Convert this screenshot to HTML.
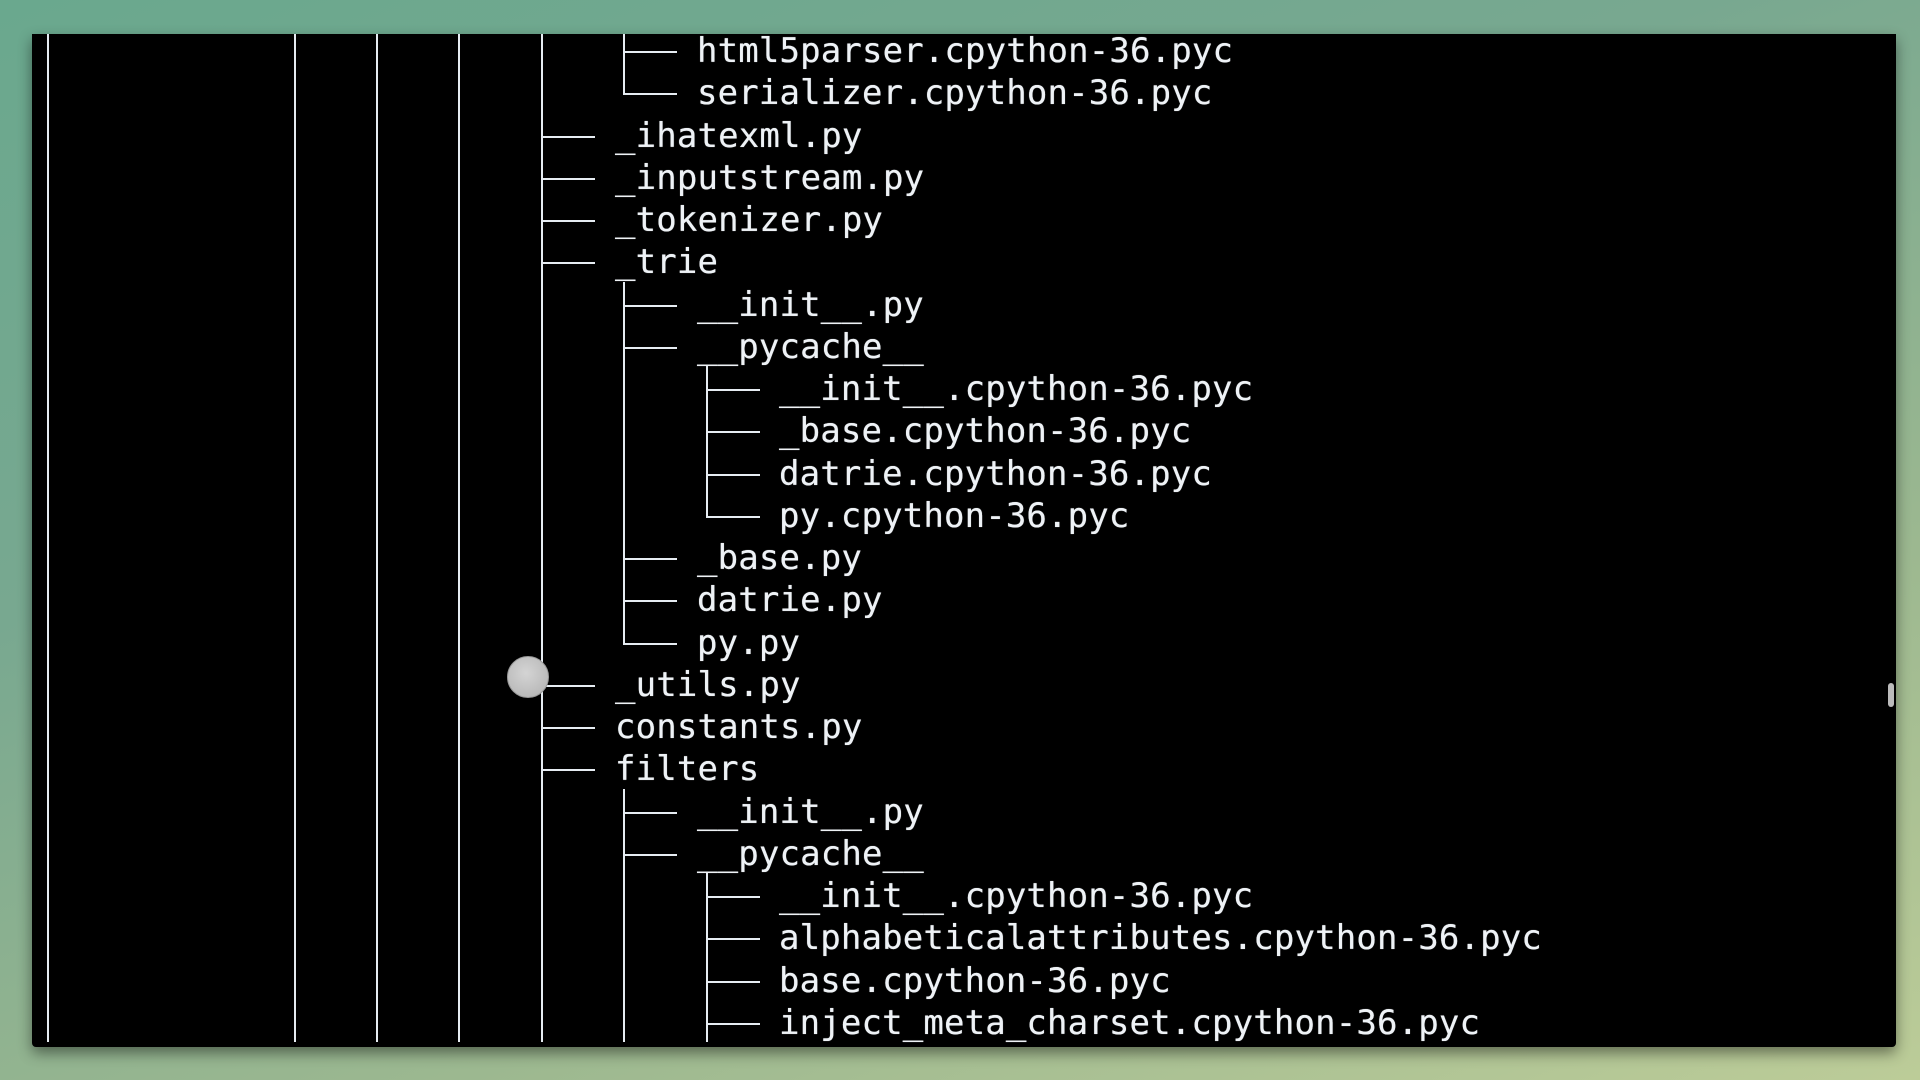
<!DOCTYPE html>
<html><head><meta charset="utf-8"><style>
html,body{margin:0;padding:0;width:1920px;height:1080px;overflow:hidden}
body{background:linear-gradient(160deg,#6aa88e 0%,#78a890 35%,#9cb890 70%,#bccc98 100%);position:relative}
#panel{position:absolute;left:32px;top:34px;width:1864px;height:1013px;background:#000;box-shadow:0 6px 14px rgba(0,0,0,0.45);border-radius:0 0 4px 4px}
.v{position:absolute;width:2px;background:#e6ecf2}
.h{position:absolute;height:2px;background:#e6ecf2}
.t{position:absolute;font-family:"DejaVu Sans Mono","Liberation Mono",monospace;font-size:34px;line-height:42.25px;letter-spacing:0.15px;color:#eef2f6;white-space:pre;text-shadow:0 0 0.6px #eef2f6}
#dot{position:absolute;left:507px;top:656px;width:40px;height:40px;border-radius:50%;background:radial-gradient(circle at 45% 40%,#d4d4d4,#b0b0b0);border:1px solid #999}
#sb{position:absolute;left:1888px;top:683px;width:6px;height:24px;border-radius:3px;background:#bbb}
</style></head><body>
<div id="panel"></div>
<div class="v" style="left:47px;top:34px;height:1008px"></div>
<div class="v" style="left:294px;top:34px;height:1008px"></div>
<div class="v" style="left:376px;top:34px;height:1008px"></div>
<div class="v" style="left:458px;top:34px;height:1008px"></div>
<div class="v" style="left:541px;top:34px;height:1008px"></div>
<div class="v" style="left:623px;top:34px;height:61px"></div>
<div class="v" style="left:623px;top:282px;height:362px"></div>
<div class="v" style="left:623px;top:789px;height:253px"></div>
<div class="v" style="left:706px;top:366px;height:151px"></div>
<div class="v" style="left:706px;top:873px;height:169px"></div>

<div class="h" style="left:623px;top:51px;width:54px"></div>
<div class="h" style="left:623px;top:93px;width:54px"></div>
<div class="h" style="left:541px;top:136px;width:54px"></div>
<div class="h" style="left:541px;top:178px;width:54px"></div>
<div class="h" style="left:541px;top:220px;width:54px"></div>
<div class="h" style="left:541px;top:262px;width:54px"></div>
<div class="h" style="left:623px;top:305px;width:54px"></div>
<div class="h" style="left:623px;top:347px;width:54px"></div>
<div class="h" style="left:706px;top:389px;width:54px"></div>
<div class="h" style="left:706px;top:431px;width:54px"></div>
<div class="h" style="left:706px;top:474px;width:54px"></div>
<div class="h" style="left:706px;top:516px;width:54px"></div>
<div class="h" style="left:623px;top:558px;width:54px"></div>
<div class="h" style="left:623px;top:600px;width:54px"></div>
<div class="h" style="left:623px;top:643px;width:54px"></div>
<div class="h" style="left:541px;top:685px;width:54px"></div>
<div class="h" style="left:541px;top:727px;width:54px"></div>
<div class="h" style="left:541px;top:769px;width:54px"></div>
<div class="h" style="left:623px;top:812px;width:54px"></div>
<div class="h" style="left:623px;top:854px;width:54px"></div>
<div class="h" style="left:706px;top:896px;width:54px"></div>
<div class="h" style="left:706px;top:938px;width:54px"></div>
<div class="h" style="left:706px;top:981px;width:54px"></div>
<div class="h" style="left:706px;top:1023px;width:54px"></div>

<div class="t" style="left:697px;top:30px">html5parser.cpython-36.pyc
serializer.cpython-36.pyc</div>
<div class="t" style="left:615px;top:114.5px">_ihatexml.py
_inputstream.py
_tokenizer.py
_trie</div>
<div class="t" style="left:697px;top:283.5px">__init__.py
__pycache__</div>
<div class="t" style="left:779px;top:368px">__init__.cpython-36.pyc
_base.cpython-36.pyc
datrie.cpython-36.pyc
py.cpython-36.pyc</div>
<div class="t" style="left:697px;top:537px">_base.py
datrie.py
py.py</div>
<div class="t" style="left:615px;top:663.75px">_utils.py
constants.py
filters</div>
<div class="t" style="left:697px;top:790.5px">__init__.py
__pycache__</div>
<div class="t" style="left:779px;top:875px">__init__.cpython-36.pyc
alphabeticalattributes.cpython-36.pyc
base.cpython-36.pyc
inject_meta_charset.cpython-36.pyc</div>
<div id="dot"></div>
<div id="sb"></div>
</body></html>
